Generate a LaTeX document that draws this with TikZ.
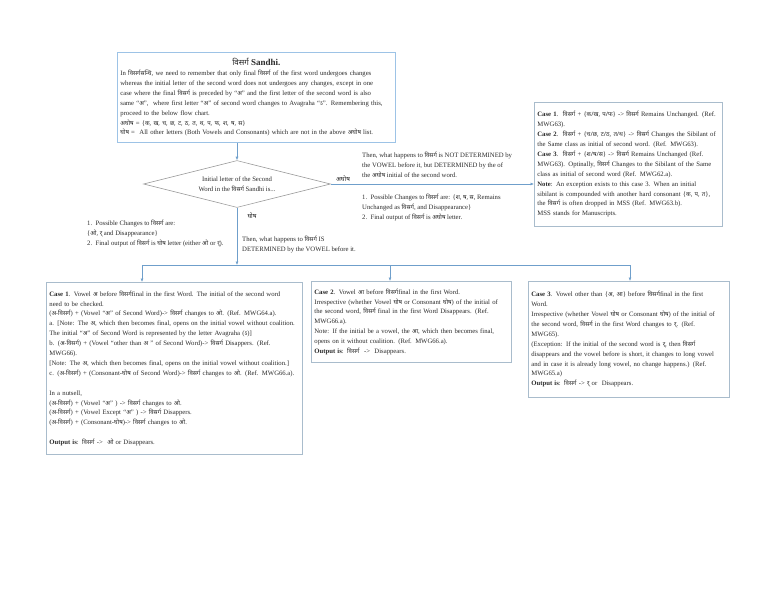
\documentclass[tikz,border=0pt]{standalone}
\usepackage{fontspec}
\setmainfont{Liberation Serif}
\newfontfamily\devfont[Script=Devanagari,Scale=0.9]{Noto Sans}
\newcommand{\dv}[1]{{\devfont #1}}
\newcommand{\vis}{\dv{विसर्ग}}
\usepackage{xcolor}
\definecolor{boxline}{HTML}{A9BCCC}
\definecolor{headline}{HTML}{9DC3E6}
\definecolor{linkblue}{HTML}{6F9FCB}
\definecolor{diagray}{HTML}{9A9A9A}
\definecolor{ink}{HTML}{2B2B2B}
\usepackage{tikz}
\usetikzlibrary{arrows.meta,shapes.geometric}

\begin{document}
\begin{tikzpicture}[x=1pt,y=-1pt,
 txt/.style={font=\fontsize{6.7}{9.9}\selectfont,text=ink},
 box/.style={txt,draw=boxline,line width=0.8pt,fill=white,align=left,anchor=north west,inner xsep=3pt,inner ysep=0pt},
 note/.style={txt,align=left,anchor=north west,inner sep=0pt},
 ask/.style={txt,diamond,draw=diagray,line width=0.6pt,aspect=4,minimum width=187pt,minimum height=47pt,inner sep=0pt,align=center},
 lbl/.style={font=\fontsize{7}{8}\selectfont\bfseries,text=ink},
 link/.style={draw=linkblue,line width=0.6pt},
 arr/.style={link,-{Latex[length=3.5pt,width=3pt]}}]
\useasboundingbox (0,0) rectangle (768,594);

\node[box,draw=headline,text width=272pt,minimum height=90pt] (intro) at (117,52) {%
\makebox[\linewidth][c]{\fontsize{9}{11}\selectfont\bfseries\dv{विसर्ग} Sandhi.}\\
In \dv{विसर्गसन्धि}, we need to remember that only final \vis{} of the first word undergoes changes\\
whereas the initial letter of the second word does not undergoes any changes, except in one\\
case where the final \vis{} is preceded by “\dv{अ}” and the first letter of the second word is also\\
same “\dv{अ}”,\ \ where first letter “\dv{अ}” of second word changes to Avagraha “\dv{ऽ}”. Remembering this,\\
proceed to the below flow chart.\\
\dv{अघोष} = \{\dv{क, ख, च, छ, ट, ठ, त, थ, प, फ, श, ष, स}\}\\
\dv{घोष} =\ \ All other letters (Both Vowels and Consonants) which are not in the above \dv{अघोष} list.};

\node[ask] (q) at (237,184) {Initial letter of the Second\\Word in the \vis{} Sandhi is...};

\node[box,text width=182pt,minimum height=124pt] (hard) at (534,102) {%
\textbf{Case 1}.\ \ \vis{} + \{\dv{क/ख, प/फ}\} -> \vis{} Remains Unchanged. (Ref.\\
MWG63).\\
\textbf{Case 2}.\ \ \vis{} + \{\dv{च/छ, ट/ठ, त/थ}\} -> \vis{} Changes the Sibilant of\\
the Same class as initial of second word. (Ref. MWG63).\\
\textbf{Case 3}.\ \ \vis{} + \{\dv{श/ष/स}\} -> \vis{} Remains Unchanged (Ref.\\
MWG63). Optinally, \vis{} Changes to the Sibilant of the Same\\
class as initial of second word (Ref. MWG62.a).\\
\textbf{Note}: An exception exists to this case 3. When an initial\\
sibilant is compounded with another hard consonant \{\dv{क, प, त}\},\\
the \vis{} is often dropped in MSS (Ref. MWG63.b).\\
MSS stands for Manuscripts.};

\node[box,text width=250pt,minimum height=172pt] (soft1) at (46,282) {%
\textbf{Case 1}. Vowel \textbf{\dv{अ}} before \textbf{\vis}final in the first Word. The initial of the second word\\
need to be checked.\\
(\dv{अ-विसर्ग}) + (Vowel “\dv{अ}” of Second Word)-> \vis{} changes to \dv{ओ}. (Ref. MWG64.a).\\
a. [Note: The \dv{अ}, which then becomes final, opens on the initial vowel without coalition.\\
The initial “\dv{अ}” of Second Word is represented by the letter Avagraha (\dv{ऽ})]\\
b. (\dv{अ-विसर्ग}) + (Vowel “other than \dv{अ} ” of Second Word)-> \vis{} Disappers. (Ref.\\
MWG66).\\{}
[Note: The \dv{अ}, which then becomes final, opens on the initial vowel without coalition.]\\
c. (\dv{अ-विसर्ग}) + (Consonant-\dv{घोष} of Second Word)-> \vis{} changes to \dv{ओ}. (Ref. MWG66.a).\\[9.9pt]
In a nutsell,\\
(\dv{अ-विसर्ग}) + (Vowel “\dv{अ}” ) -> \vis{} changes to \dv{ओ}.\\
(\dv{अ-विसर्ग}) + (Vowel Except “\dv{अ}” ) -> \vis{} Disappers.\\
(\dv{अ-विसर्ग}) + (Consonant-\dv{घोष})-> \vis{} changes to \dv{ओ}.\\[9.9pt]
\textbf{Output is}: \vis{} ->\ \ \dv{ओ} or Disappears.};

\node[box,text width=194pt,minimum height=81pt] (soft2) at (311,281) {%
\textbf{Case 2}. Vowel \textbf{\dv{आ}} before \textbf{\vis}final in the first Word.\\
Irrespective (whether Vowel \dv{घोष} or Consonant \dv{घोष}) of the initial of\\
the second word, \vis{} final in the first Word Disappears. (Ref.\\
MWG66.a).\\
Note: If the initial be a vowel, the \dv{आ}, which then becomes final,\\
opens on it without coalition. (Ref. MWG66.a).\\
\textbf{Output is}: \vis{}\ \ ->\ \ Disappears.};

\node[box,text width=195pt,minimum height=116pt] (soft3) at (528,281) {%
\textbf{Case 3}. Vowel other than \{\dv{अ}, \textbf{\dv{आ}}\} before \textbf{\vis}final in the first\\
Word.\\
Irrespective (whether Vowel \dv{घोष} or Consonant \dv{घोष}) of the initial of\\
the second word, \vis{} in the first Word changes to \dv{र्}. (Ref.\\
MWG65).\\
(Exception: If the initial of the second word is \dv{र्}, then \textbf{\vis}\\
disappears and the vowel before is short, it changes to long vowel\\
and in case it is already long vowel, no change happens.) (Ref.\\
MWG65.a)\\
\textbf{Output is}: \vis{} -> \dv{र्} or\ \ Disappears.};

% branch notes
\node[note] (hardwhy) at (362,152) {Then, what happens to \vis{} is NOT DETERMINED by\\
the VOWEL before it, but DETERMINED by the of\\
the \dv{अघोष} initial of the second word.};
\node[note] (hardout) at (362,194) {1.\ \ Possible Changes to \vis{} are: \{\dv{श, ष, स}, Remains\\
Unchanged as \vis{}, and Disappearance\}\\
2.\ \ Final output of \vis{} is \dv{अघोष} letter.};
\node[note] (softout) at (87,220) {1.\ \ Possible Changes to \vis{} are:\\
\{\dv{ओ, र्} and Disappearance\}\\
2.\ \ Final output of \vis{} is \dv{घोष} letter (either \dv{ओ} or \dv{र्}).};
\node[note] (softwhy) at (242,236) {Then, what happens to \vis{} IS\\
DETERMINED by the VOWEL before it.};

\node[lbl] (agh) at (343,179) {\dv{अघोष}};
\node[lbl] (gh) at (252,216) {\dv{घोष}};

\coordinate (split) at (237,265);
\coordinate (b1) at (142,265);
\coordinate (b2) at (390,265);
\coordinate (b3) at (630,265);

\draw[arr] (intro.south -| q.north) -- (q.north);
\draw[arr] (q.east) -- (q.east -| hard.west);
\draw[arr] (q.south) -- (split);
\draw[link] (b1) -- (b3);
\foreach \b/\c in {b1/soft1,b2/soft2,b3/soft3}
  \draw[arr] (\b) -- (\b |- \c.north);
\end{tikzpicture}
\end{document}
